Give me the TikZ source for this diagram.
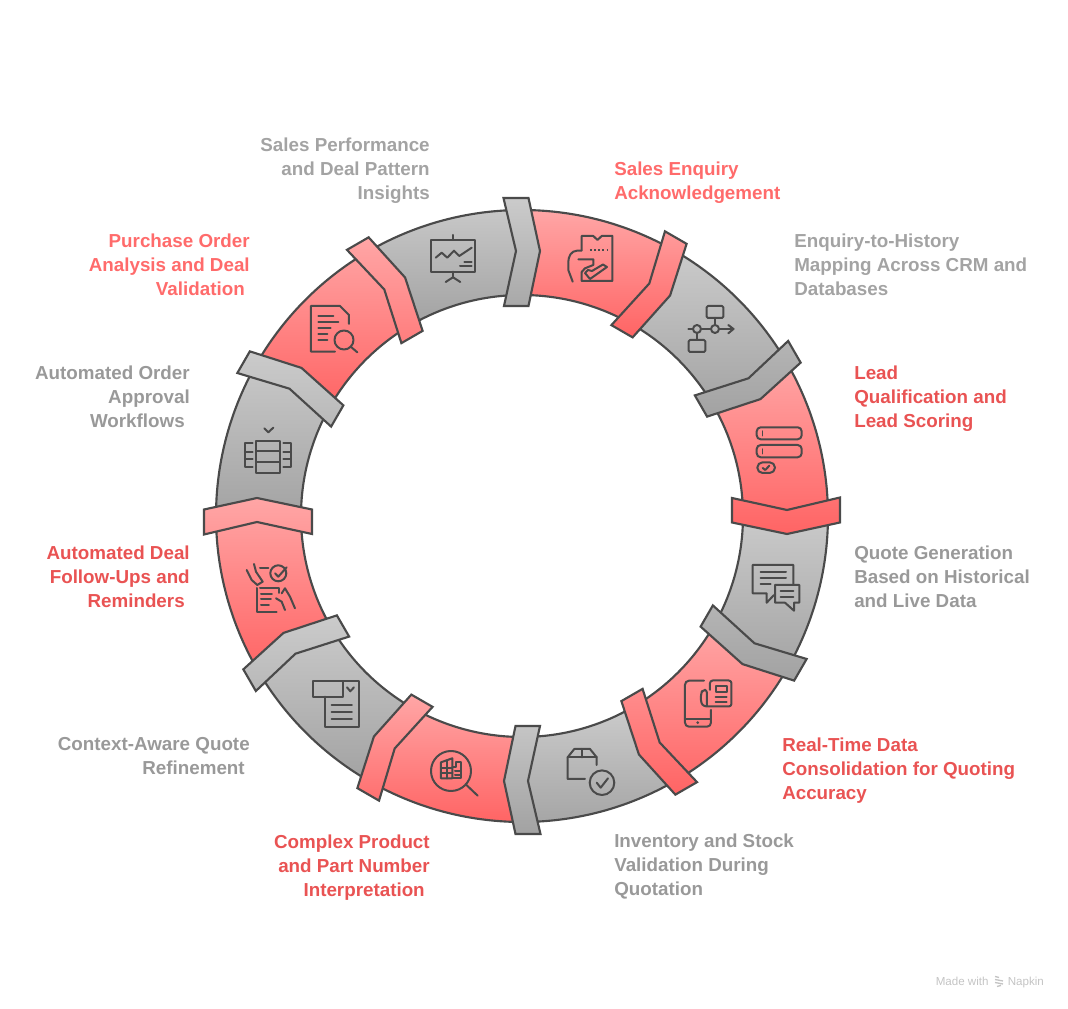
\documentclass[tikz,border=0pt]{standalone}
\usepackage{fontspec}
\setmainfont{Liberation Sans}
\definecolor{linegray}{HTML}{4A4A4A}
\definecolor{graytop}{HTML}{CBCBCB}
\definecolor{graybot}{HTML}{A2A2A2}
\definecolor{redtop}{HTML}{FFA6A6}
\definecolor{redbot}{HTML}{FF6464}
\definecolor{graytext}{HTML}{A3A3A3}
\definecolor{darkgraytext}{HTML}{999999}
\definecolor{redtext}{HTML}{FF6B6B}
\definecolor{darkredtext}{HTML}{E95353}
\definecolor{footgray}{HTML}{C4C4C4}

% ring piece and its chevron, drawn at the top of the ring
\newcommand{\ringpart}{(120.7:306) arc[start angle = 120.7, end angle = 90.7, radius = 306]
  -- (90.7:221) arc[start angle = 90.7, end angle = 120.7, radius = 221] -- cycle}
\newcommand{\headpart}{(-18.5,318) -- (6.5,318) -- (18,265) -- (6.5,210) -- (-18,210) -- (-6,265) -- cycle}

\begin{document}
\begin{tikzpicture}[
      x = .75pt, y = .75pt,
      label/.style = {
        inner sep = 0, yshift = -1.7pt,
        font = \fontsize{14.1pt}{18pt}\selectfont\bfseries,
      },
      labelL/.style = {label, anchor = north east, align = right},
      labelR/.style = {label, anchor = north west, align = left},
      foot/.style = {
        inner sep = 0, anchor = base west, text = footgray,
        font = \fontsize{8.7pt}{10pt}\selectfont,
      },
      ringline/.style = {draw = linegray, line width = 1.6pt, line join = round},
      icon/.style = {draw = linegray, line width = 1.5pt, line join = round, line cap = round},
    ]
    \useasboundingbox (-522,-493) rectangle (546,516);

    \foreach \k/\lite/\dark in {0/graytop/graybot, 1/redtop/redbot, 2/graytop/graybot, 3/redtop/redbot,
        4/graytop/graybot, 5/redtop/redbot, 6/graytop/graybot, 7/redtop/redbot,
        8/graytop/graybot, 9/redtop/redbot, 10/graytop/graybot, 11/redtop/redbot} {
      \begin{scope}[rotate = -30*\k]
        \begin{scope}
          \clip \ringpart;
          \shade[top color = \lite, bottom color = \dark] \ringpart \headpart;
        \end{scope}
        \draw[ringline] (120.7:306) arc[start angle = 120.7, end angle = 90.7, radius = 306];
        \draw[ringline] (120.7:221) arc[start angle = 120.7, end angle = 90.7, radius = 221];
      \end{scope}
    }

    \foreach \k/\lite/\dark in {0/graytop/graybot, 1/redtop/redbot, 2/graytop/graybot, 3/redtop/redbot,
        4/graytop/graybot, 5/redtop/redbot, 6/graytop/graybot, 7/redtop/redbot,
        8/graytop/graybot, 9/redtop/redbot, 10/graytop/graybot, 11/redtop/redbot} {
      \begin{scope}[rotate = -30*\k]
        \begin{scope}
          \clip \headpart;
          \shade[top color = \lite, bottom color = \dark] \ringpart \headpart;
        \end{scope}
        \draw[ringline, line join = miter] \headpart;
      \end{scope}
    }

    \begin{scope}[shift = {(-522,516)}, y = -.75pt]

      \node[labelL, text = graytext] (perf) at (430,135) {Sales Performance\\and Deal Pattern\\Insights};
      \node[labelR, text = redtext] (enquiry) at (614,159) {Sales Enquiry\\Acknowledgement};
      \node[labelR, text = graytext] (history) at (794,231) {Enquiry-to-History\\Mapping Across CRM and\\Databases};
      \node[labelR, text = darkredtext] (lead) at (854,363) {Lead\\Qualification and\\Lead Scoring};
      \node[labelR, text = darkgraytext] (quote) at (854,543) {Quote Generation\\Based on Historical\\and Live Data};
      \node[labelR, text = darkredtext] (realtime) at (782,735) {Real-Time Data\\Consolidation for Quoting\\Accuracy};
      \node[labelR, text = darkgraytext] (stock) at (614,831) {Inventory and Stock\\Validation During\\Quotation};
      \node[labelL, text = darkredtext] (complex) at (430,832) {Complex Product\\and Part Number\\Interpretation\hspace*{3.75pt}};
      \node[labelL, text = darkgraytext] (context) at (250,735) {Context-Aware Quote\\Refinement\hspace*{3.75pt}};
      \node[labelL, text = darkredtext] (followup) at (190,543) {Automated Deal\\Follow-Ups and\\Reminders\hspace*{3.75pt}};
      \node[labelL, text = darkgraytext] (approval) at (190,363) {Automated Order\\Approval\\Workflows\hspace*{3.75pt}};
      \node[labelL, text = redtext] (purchase) at (250,231) {Purchase Order\\Analysis and Deal\\Validation\hspace*{3.75pt}};

      \node[foot] (made) at (935.5,985.5) {Made with};
      \node[foot] (napkin) at (1007.5,985.5) {Napkin};
      \draw[footgray, line width = 1pt]
        (995,976.5) -- (999,977.5) (995,979.5) -- (1003,981) (995,982.5) -- (1003,984) (997,986.5) -- (1001,985.5);

      % sales enquiry
      \draw[icon] (581.7,250) -- (581.7,236) -- (593.3,236) -- (597.5,240) -- (601.7,236) -- (612.5,236) -- (612.5,281) -- (581.7,281) -- (581.7,272);
      \draw[draw = linegray, line width = 1.5pt, dash pattern = on 1.4pt off 1.7pt] (590,250) -- (608,250);
      \draw[icon] (581.7,250.7) -- (577,250.7) to[out = 180, in = 90] (568.3,262) -- (568.3,270) -- (572.7,281.7);
      \draw[icon] (578.3,259.3) -- (593.3,259.3) -- (593.3,265) -- (585,268.3) -- (581.7,272);
      \draw[icon] (585,273) -- (590,279) -- (607,267) -- (603,264.5) -- (592,271) -- (588,270) -- cycle;

      % flow chart
      \draw[icon, rounded corners = 1pt] (706.7,306) rectangle (723.3,318);
      \draw[icon, rounded corners = 1pt] (688.7,340) rectangle (705.3,352);
      \draw[icon] (715,318) -- (715,325) (697,333) -- (697,340);
      \draw[icon] (715,329) circle[radius = 4] (697,329) circle[radius = 4];
      \draw[icon] (688.3,329) -- (693,329) (701,329) -- (711,329) (719,329) -- (733.5,329);
      \draw[icon] (728.3,325) -- (733.5,329) -- (728.3,333.3);

      % form
      \draw[icon, rounded corners = 3pt] (756.7,427.3) rectangle (801.7,439.3);
      \draw[icon, rounded corners = 3pt] (756.7,445) rectangle (801.7,457.3);
      \draw[icon, rounded corners = 4pt] (757.3,462.3) rectangle (775,473);
      \draw[icon, line width = 1pt] (762.3,431) -- (762.3,435.7) (762.3,449) -- (762.3,453.7);
      \draw[icon] (762.7,468) -- (765.3,470) -- (769.3,465.7);

      % chat bubbles
      \draw[icon] (793.3,584.3) -- (793.3,565) -- (752.7,565) -- (752.7,593.3) -- (766.7,593.3) -- (766.7,602.7) -- (774,595);
      \draw[icon] (760.7,572) -- (786,572) (760.7,577.7) -- (786,577.7) (760.7,583.7) -- (770.7,583.7);
      \draw[icon] (785,602.7) -- (775,602.7) -- (775,585) -- (799.3,585) -- (799.3,602.7) -- (794,602.7) -- (794,610.7) -- cycle;
      \draw[icon] (780.7,590.7) -- (793.3,590.7) (780.7,596.7) -- (793.3,596.7);

      % phone and paper
      \draw[icon, rounded corners = 3pt] (704,680.7) -- (685,680.7) -- (685,726.7) -- (711,726.7) -- (711,710);
      \draw[icon] (685,719) -- (711,719);
      \fill[linegray] (697.7,722.7) circle[radius = 1.5];
      \draw[icon, rounded corners = 2pt] (710,690) -- (710,680.5) -- (731.5,680.5) -- (731.5,706.5) -- (704,706.5) -- (701,703) -- (701,693) -- (703,690) -- (707,690) -- (707,706);
      \draw[icon] (715.7,685.7) rectangle (726.7,691.7);
      \draw[icon] (715.7,696.7) -- (726.7,696.7) (715.7,701.7) -- (726.7,701.7);

      % parcel
      \draw[icon] (585,779) -- (567.7,779) -- (567.7,757.3) -- (574.3,749) -- (590,749) -- (596.7,757.3) -- (596.7,765);
      \draw[icon] (567.7,757.3) -- (596.7,757.3) (582,749) -- (582,757.3);
      \draw[icon] (602,782.7) circle[radius = 12.3];
      \draw[icon] (596.7,782.7) -- (600.7,787.7) -- (608,778.3);

      % search part
      \draw[icon] (451,771) circle[radius = 20];
      \draw[icon] (465.7,784.3) -- (477.7,795.7);
      \draw[icon] (441,762.3) -- (452.3,758.3) -- (452.3,778.3) -- (441,778.3) -- cycle;
      \draw[icon] (452.3,766.7) -- (456,766.7) -- (456,762) -- (461,762) -- (461,778.3) -- (452.3,778.3);
      \draw[icon] (446.7,760.5) -- (446.7,778.3) (441,767.7) -- (452.3,767.7) (441,773) -- (452.3,773);
      \draw[icon] (455,771.5) -- (461,771.5) (455,775) -- (461,775);

      % drop down
      \draw[icon] (312.7,681) rectangle (342.7,696.7);
      \draw[icon] (342.7,681) -- (359,681) -- (359,727) -- (325,727) -- (325,696.7);
      \draw[icon] (347,687.3) -- (350.3,691.3) -- (354,687.3);
      \draw[icon] (331.7,705) -- (352,705) (331.7,712) -- (352,712) (331.7,718.7) -- (352,718.7);

      % hands
      \draw[icon] (257.3,588) -- (257.3,611.7) -- (276.7,611.7);
      \draw[icon] (260,588.3) -- (279.3,588.3) -- (279.3,593);
      \draw[icon] (261,593.8) -- (272,593.8) (261,599.5) -- (271,599.5) (261,605) -- (269,605);
      \draw[icon] (278.3,573.3) circle[radius = 8];
      \draw[icon] (275,573.3) -- (278.3,576.7) -- (286.7,567.3);
      \draw[icon] (260,568.3) -- (268.3,568.3);
      \draw[icon] (246.7,570) -- (251.7,580) -- (257.3,585) -- (262.7,581.7) -- (256,571.7) -- (254,564);
      \draw[icon] (276,598.3) -- (281.7,601.7) -- (285,610);
      \draw[icon] (281.7,593.3) -- (285,588.3) -- (290,596.7) -- (295,608.3);

      % database
      \draw[icon] (256,440.7) rectangle (280,472.7);
      \draw[icon] (256,450.7) -- (280,450.7) (256,461.7) -- (280,461.7);
      \draw[icon] (252.7,443.3) -- (245,443.3) -- (245,467.3) -- (252.7,467.3);
      \draw[icon] (245,451.7) -- (252.7,451.7) (245,459.3) -- (252.7,459.3);
      \draw[icon] (283.3,443.3) -- (290.7,443.3) -- (290.7,467.3) -- (283.3,467.3);
      \draw[icon] (283.3,451.7) -- (290.7,451.7) (283.3,459.3) -- (290.7,459.3);
      \draw[icon] (264.3,428.3) -- (268.3,432.3) -- (273.3,427.7);

      % document search
      \draw[icon] (335,351.7) -- (311,351.7) -- (311,306) -- (340,306) -- (349,315) -- (349,324);
      \draw[icon] (318.3,315.7) -- (333.3,315.7) (318.3,322) -- (338.3,322) (318.3,328) -- (330.7,328)
        (318.3,334) -- (327.3,334) (318.3,340) -- (327.3,340);
      \draw[icon] (344,340) circle[radius = 9.5];
      \draw[icon] (350.7,346.7) -- (357.3,352.3);

      % presentation board
      \draw[icon] (430.7,240) rectangle (475.3,271.7);
      \draw[icon] (453,235) -- (453,240) (453,271.7) -- (453,277.3);
      \draw[icon] (445.7,282) -- (453,277.3) -- (460.3,282);
      \draw[icon] (435.7,257.7) -- (441.7,252.7) -- (447.3,257.7) -- (454,250.7) -- (459.3,256) -- (471.7,247.7);
      \draw[icon] (464.3,261.7) -- (471.7,261.7) (460,266) -- (471.7,266);
    \end{scope}

  \end{tikzpicture}
\end{document}
